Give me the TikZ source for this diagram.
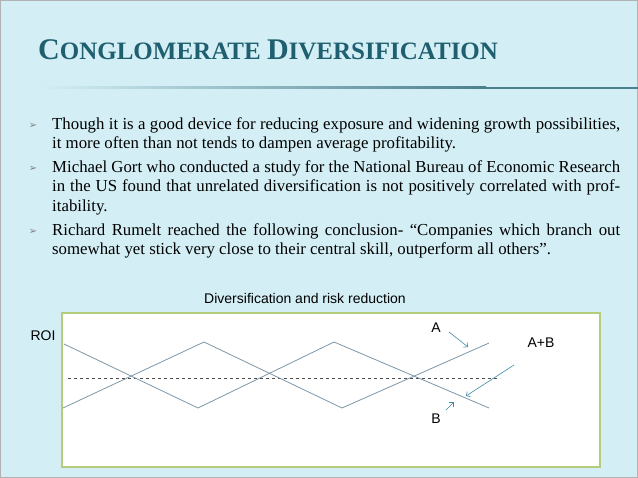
\documentclass[tikz,border=0pt]{standalone}
\usepackage{fontspec}
\setmainfont{Liberation Serif}
\newfontfamily\arial{Liberation Sans}
\newfontfamily\dejavu{DejaVu Sans}
\usetikzlibrary{arrows.meta}
\definecolor{bgc}{HTML}{D3EFF5}
\definecolor{titc}{HTML}{1F5F70}
\definecolor{boxc}{HTML}{B5CC7A}
\definecolor{linec}{HTML}{7F97A6}
\definecolor{arrc}{HTML}{3E8BA8}
\tikzset{
  bul/.style={anchor=north west,inner sep=0pt,text width=568pt,align=justify,font=\fontsize{16.8}{19.5}\selectfont},
  bulmark/.style={anchor=base,inner sep=0pt,text=gray,font=\dejavu\fontsize{10}{10}\selectfont},
  lab/.style={inner sep=0pt,font=\arial\fontsize{14}{14}\selectfont},
  zig/.style={linec,line width=0.8pt},
  pt/.style={-{Straight Barb[length=3pt]},arrc,line width=0.6pt}
}
\begin{document}
\begin{tikzpicture}[x=1pt,y=-1pt]
\useasboundingbox (0,0) rectangle (638,478);
\fill[bgc] (0,0) rectangle (638,478);
\draw[gray!60,line width=1pt] (0.5,0.5) rectangle (637.5,477.5);
% title
\node[anchor=base west,inner sep=0pt,text=titc,font=\bfseries] (title) at (38,60)
 {\fontsize{30}{30}\selectfont C\fontsize{25}{25}\selectfont ONGLOMERATE \fontsize{30}{30}\selectfont D\fontsize{25}{25}\selectfont IVERSIFICATION};
\shade[left color=bgc,right color=titc!80] (40,87) rectangle (486,89);
\fill[titc!80] (486,87) rectangle (638,89);
% bullets
\node[bulmark] (m1) at (33,129) {➢};
\node[bul] (b1) at (52,117) {Though it is a good device for reducing exposure and widening growth possibilities, it more often than not tends to dampen average profitability.};
\node[bulmark] (m2) at (33,172) {➢};
\node[bul] (b2) at (52,160) {Michael Gort who conducted a study for the National Bureau of Economic Research in the US found that unrelated diversification is not positively correlated with profitability.};
\node[bulmark] (m3) at (33,235) {➢};
\node[bul] (b3) at (52,223) {Richard Rumelt reached the following conclusion- “Companies which branch out somewhat yet stick very close to their central skill, outperform all others”.};
% chart
\node[lab] (ct) at (305,298) {Diversification and risk reduction};
\draw[boxc,fill=white,line width=1.3pt] (62,313) rectangle (600,467);
\node[lab] (roi) at (43,336) {ROI};
\coordinate (d1) at (68,378);
\coordinate (d2) at (500,378);
\draw[dash pattern=on 3pt off 3pt,black!70,line width=0.8pt] (d1) -- (d2);
\coordinate (a0) at (63,408); \coordinate (a1) at (204,342); \coordinate (a2) at (342,408); \coordinate (a3) at (489,343);
\coordinate (c0) at (64,344); \coordinate (c1) at (198,408); \coordinate (c2) at (334,342); \coordinate (c3) at (489,408);
\draw[zig] (a0) -- (a1) -- (a2) -- (a3);
\draw[zig] (c0) -- (c1) -- (c2) -- (c3);
\node[lab] (A) at (436,328) {A};
\node[lab] (AB) at (541,343) {A+B};
\node[lab] (B) at (436,419) {B};
\coordinate (pa1) at (449,332); \coordinate (pa2) at (468,347);
\coordinate (pb1) at (514,365); \coordinate (pb2) at (466,396);
\coordinate (pc1) at (446,410); \coordinate (pc2) at (454,402);
\draw[pt] (pa1) -- (pa2);
\draw[pt] (pb1) -- (pb2);
\draw[pt] (pc1) -- (pc2);
\end{tikzpicture}
\end{document}
